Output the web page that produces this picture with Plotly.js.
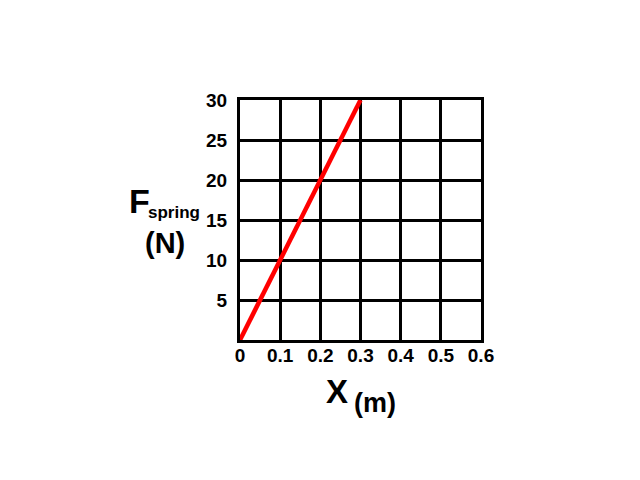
<!DOCTYPE html>
<html>
<head>
<meta charset="utf-8">
<script src="https://cdn.plot.ly/plotly-3.0.1.min.js"></script>
<style>html,body{margin:0;padding:0;background:#fff;}#chart{width:640px;height:480px;}</style>
</head>
<body>
<div id="chart"></div>
<script>
const xVals = [0, 0.3];
const yVals = [0, 30];
const xTicks = [0, 0.1, 0.2, 0.3, 0.4, 0.5, 0.6];
const xTickText = ['0', '0.1', '0.2', '0.3', '0.4', '0.5', '0.6'];
const yTicks = [5, 10, 15, 20, 25, 30];
const yTickText = ['5', '10', '15', '20', '25', '30'];

const L = 240, R = 481, T = 100, B = 340;
function px(x){ return (x - L) / (R - L); }
function py(y){ return (B - y) / (B - T); }
const fontFam = 'Liberation Sans, Arial, sans-serif';

const trace = {
  x: xVals, y: yVals, type: 'scatter', mode: 'lines',
  line: {color: '#ff0000', width: 4.5}, hoverinfo: 'skip', cliponaxis: false
};

const axisCommon = {
  showgrid: true, gridcolor: '#000', gridwidth: 3,
  showline: true, linecolor: '#000', linewidth: 3, mirror: true,
  zeroline: false, ticks: '', fixedrange: true,
  tickfont: {family: fontFam, size: 19, color: '#000'}
};

const layout = {
  width: 640, height: 480,
  margin: {l: L, r: 640 - R, t: T, b: 480 - B, pad: 0},
  paper_bgcolor: '#fff', plot_bgcolor: '#fff',
  showlegend: false,
  xaxis: Object.assign({}, axisCommon, {
    range: [0, 0.6], tickvals: xTicks, ticktext: xTickText.map(t => '<b>' + t + '</b>'), ticklabelstandoff: -4
  }),
  yaxis: Object.assign({}, axisCommon, {
    range: [0, 30], tickvals: yTicks, ticktext: yTickText.map(t => '<b>' + t + '</b>'), ticklabelstandoff: 6
  }),
  annotations: [
    {text: '<b>F</b>', xref: 'paper', yref: 'paper', x: px(127), y: py(201), xanchor: 'left', yanchor: 'middle', showarrow: false, font: {family: fontFam, size: 34, color: '#000'}},
    {text: '<b>spring</b>', xref: 'paper', yref: 'paper', x: px(146), y: py(212), xanchor: 'left', yanchor: 'middle', showarrow: false, font: {family: fontFam, size: 17, color: '#000'}},
    {text: '<b>(N)</b>', xref: 'paper', yref: 'paper', x: px(165), y: py(243), xanchor: 'center', yanchor: 'middle', showarrow: false, font: {family: fontFam, size: 29, color: '#000'}},
    {text: '<b>X</b>', xref: 'paper', yref: 'paper', x: px(337), y: py(391), xanchor: 'center', yanchor: 'middle', showarrow: false, font: {family: fontFam, size: 33, color: '#000'}},
    {text: '<b>(m)</b>', xref: 'paper', yref: 'paper', x: px(375), y: py(403), xanchor: 'center', yanchor: 'middle', showarrow: false, font: {family: fontFam, size: 27, color: '#000'}}
  ]
};

Plotly.newPlot('chart', [trace], layout, {displayModeBar: false, staticPlot: true});
</script>
</body>
</html>
